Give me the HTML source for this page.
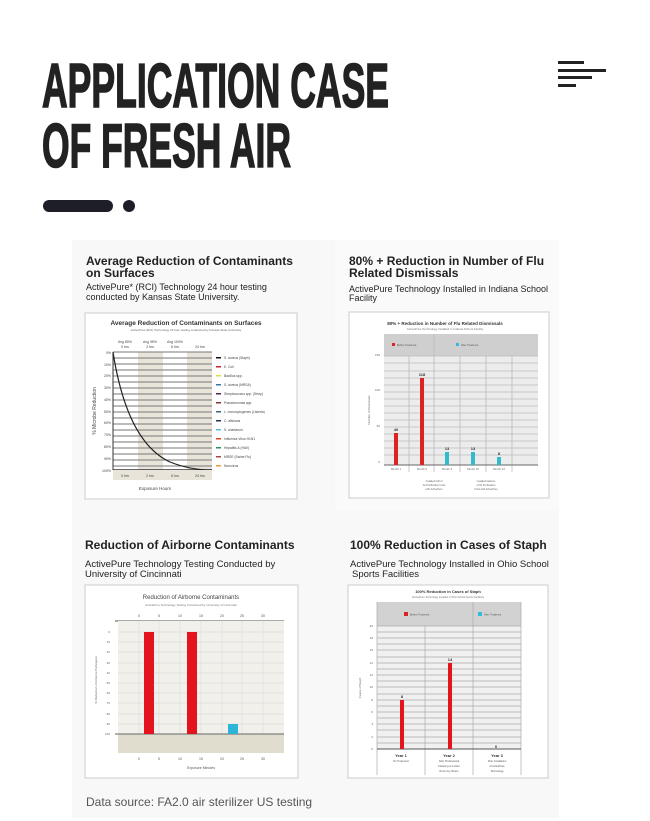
<!DOCTYPE html>
<html><head><meta charset="utf-8"><style>
html,body{margin:0;padding:0;background:#fff;}
svg{display:block;font-family:"Liberation Sans",sans-serif;}
</style></head><body>
<svg width="650" height="821" viewBox="0 0 650 821" xmlns="http://www.w3.org/2000/svg">
<rect width="650" height="821" fill="#fff"/>
<!-- header -->
<text x="42" y="107" font-family="Liberation Sans Narrow, Liberation Sans, sans-serif" font-weight="bold" font-size="62" fill="#222" stroke="#222" stroke-width="1.6" textLength="347" lengthAdjust="spacingAndGlyphs">APPLICATION CASE</text>
<text x="42" y="167" font-family="Liberation Sans Narrow, Liberation Sans, sans-serif" font-weight="bold" font-size="62" fill="#222" stroke="#222" stroke-width="1.6" textLength="249" lengthAdjust="spacingAndGlyphs">OF FRESH AIR</text>
<g fill="#222">
<rect x="558" y="61" width="26" height="3"/><rect x="558" y="69" width="48" height="3"/>
<rect x="558" y="76" width="34" height="3"/><rect x="558" y="84" width="18" height="3"/>
<rect x="43" y="200" width="70" height="12" rx="6" fill="#1e1e28"/><circle cx="129" cy="206" r="6" fill="#1e1e28"/>
</g>
<!-- panel bg -->
<rect x="72" y="240" width="487" height="578" fill="#f8f8f8"/>
<rect x="335" y="240" width="224" height="270" fill="#fafafa"/>

<g fill="#222">
<text x="86" y="265" font-size="12" font-weight="bold">Average Reduction of Contaminants</text>
<text x="86" y="277" font-size="12" font-weight="bold">on Surfaces</text>
<text x="86" y="290" font-size="9">ActivePure* (RCI) Technology 24 hour testing</text>
<text x="86" y="300" font-size="9">conducted by Kansas State University.</text>
<text x="349" y="265" font-size="12" font-weight="bold">80% + Reduction in Number of Flu</text>
<text x="349" y="277" font-size="12" font-weight="bold">Related Dismissals</text>
<text x="349" y="292" font-size="9">ActivePure Technology Installed in Indiana School</text>
<text x="349" y="301" font-size="9">Facility</text>
<text x="85" y="549" font-size="12" font-weight="bold">Reduction of Airborne Contaminants</text>
<text x="85" y="567" font-size="9.5">ActivePure Technology Testing Conducted by</text>
<text x="85" y="577" font-size="9.5">University of Cincinnati</text>
<text x="350" y="549" font-size="12" font-weight="bold">100% Reduction in Cases of Staph</text>
<text x="350" y="567" font-size="9.5">ActivePure Technology Installed in Ohio School</text>
<text x="352" y="577" font-size="9.5">Sports Facilities</text>
<text x="86" y="806" font-size="12" fill="#555">Data source: FA2.0 air sterilizer US testing</text>
</g>

<!-- Chart 1 -->
<rect x="85" y="313" width="212" height="186" fill="#fff" stroke="#ccc"/>
<text x="186" y="325" font-size="6.5" font-weight="bold" text-anchor="middle" fill="#333">Average Reduction of Contaminants on Surfaces</text>
<text x="186" y="331" font-size="3" text-anchor="middle" fill="#666">ActivePure (RCI) Technology 24 hour testing conducted by Kansas State University</text>
<g font-size="3.5" fill="#444" text-anchor="middle">
<text x="125" y="343">Avg 80%</text><text x="150" y="343">Avg 95%</text><text x="175" y="343">Avg 100%</text>
<text x="125" y="348">0 hrs</text><text x="150" y="348">2 hrs</text><text x="175" y="348">6 hrs</text><text x="200" y="348">24 hrs</text>
</g>
<rect x="113" y="352" width="99" height="118" fill="#fff"/>
<rect x="138" y="352" width="25" height="118" fill="#e8e4da"/>
<rect x="187" y="352" width="25" height="118" fill="#e8e4da"/>
<g stroke="#777" stroke-width="1">
<line x1="113" y1="352" x2="212" y2="352"/><line x1="113" y1="358" x2="212" y2="358"/><line x1="113" y1="364" x2="212" y2="364"/><line x1="113" y1="370" x2="212" y2="370"/><line x1="113" y1="376" x2="212" y2="376"/><line x1="113" y1="382" x2="212" y2="382"/><line x1="113" y1="388" x2="212" y2="388"/><line x1="113" y1="394" x2="212" y2="394"/><line x1="113" y1="400" x2="212" y2="400"/><line x1="113" y1="406" x2="212" y2="406"/><line x1="113" y1="412" x2="212" y2="412"/><line x1="113" y1="418" x2="212" y2="418"/><line x1="113" y1="424" x2="212" y2="424"/><line x1="113" y1="430" x2="212" y2="430"/><line x1="113" y1="436" x2="212" y2="436"/><line x1="113" y1="442" x2="212" y2="442"/><line x1="113" y1="448" x2="212" y2="448"/><line x1="113" y1="454" x2="212" y2="454"/><line x1="113" y1="460" x2="212" y2="460"/><line x1="113" y1="466" x2="212" y2="466"/>
</g>
<line x1="113" y1="470" x2="212" y2="470" stroke="#333" stroke-width="1.5"/>
<line x1="113" y1="352" x2="113" y2="470" stroke="#333"/>
<path d="M113,352 C122,410 140,448 170,462 C185,468 200,470 212,470" fill="none" stroke="#222" stroke-width="1.2"/>
<g font-size="3.5" fill="#444" text-anchor="end">
<text x="111" y="354">0%</text><text x="111" y="366">10%</text><text x="111" y="377">20%</text><text x="111" y="389">30%</text><text x="111" y="401">40%</text><text x="111" y="413">50%</text><text x="111" y="424">60%</text><text x="111" y="436">70%</text><text x="111" y="448">80%</text><text x="111" y="460">90%</text><text x="111" y="472">100%</text>
</g>
<text x="96" y="411" font-size="5" fill="#444" text-anchor="middle" transform="rotate(-90 96 411)">% Microbe Reduction</text>
<rect x="113" y="470" width="99" height="10" fill="#e8e4da"/>
<g font-size="3.5" fill="#444" text-anchor="middle"><text x="125" y="477">0 hrs</text><text x="150" y="477">2 hrs</text><text x="175" y="477">6 hrs</text><text x="200" y="477">24 hrs</text></g>
<text x="155" y="490" font-size="4.5" fill="#444" text-anchor="middle">Exposure Hours</text>
<g font-size="3.3" fill="#444">
<rect x="216" y="357" width="5" height="1.5" fill="#111"/><text x="224" y="359">S. aureus (Staph)</text>
<rect x="216" y="366" width="5" height="1.5" fill="#c23"/><text x="224" y="368">E. Coli</text>
<rect x="216" y="375" width="5" height="1.5" fill="#dd4"/><text x="224" y="377">Bacillus spp.</text>
<rect x="216" y="384" width="5" height="1.5" fill="#37a"/><text x="224" y="386">S. aureus (MRSA)</text>
<rect x="216" y="393" width="5" height="1.5" fill="#525"/><text x="224" y="395">Streptococcus spp. (Strep)</text>
<rect x="216" y="402" width="5" height="1.5" fill="#833"/><text x="224" y="404">Pseudomonas spp.</text>
<rect x="216" y="411" width="5" height="1.5" fill="#367"/><text x="224" y="413">L. monocytogenes (Listeria)</text>
<rect x="216" y="420" width="5" height="1.5" fill="#236"/><text x="224" y="422">C. albicans</text>
<rect x="216" y="429" width="5" height="1.5" fill="#5bd"/><text x="224" y="431">S. chartarum</text>
<rect x="216" y="438" width="5" height="1.5" fill="#d42"/><text x="224" y="440">Influenza Virus H1N1</text>
<rect x="216" y="447" width="5" height="1.5" fill="#295"/><text x="224" y="449">Hepatitis A (HAV)</text>
<rect x="216" y="456" width="5" height="1.5" fill="#a44"/><text x="224" y="458">MRSE (Swine Flu)</text>
<rect x="216" y="465" width="5" height="1.5" fill="#e93"/><text x="224" y="467">Norovirus</text>
</g>

<!-- Chart 2 -->
<rect x="349" y="312" width="200" height="186" fill="#fff" stroke="#ccc"/>
<text x="445" y="325" font-size="4.5" font-weight="bold" text-anchor="middle" fill="#333">80% + Reduction in Number of Flu Related Dismissals</text>
<text x="445" y="330" font-size="3" text-anchor="middle" fill="#777">ActivePure Technology Installed in Indiana School Facility</text>
<rect x="384" y="334" width="154" height="131" fill="#ececec"/>
<rect x="384" y="334" width="154" height="22" fill="#cfcfcf"/>
<g stroke="#bbb" stroke-width="0.8">
<line x1="384" y1="356" x2="538" y2="356"/><line x1="384" y1="363" x2="538" y2="363"/><line x1="384" y1="371" x2="538" y2="371"/><line x1="384" y1="378" x2="538" y2="378"/><line x1="384" y1="385" x2="538" y2="385"/><line x1="384" y1="392" x2="538" y2="392"/><line x1="384" y1="399" x2="538" y2="399"/><line x1="384" y1="406" x2="538" y2="406"/><line x1="384" y1="413" x2="538" y2="413"/><line x1="384" y1="420" x2="538" y2="420"/><line x1="384" y1="427" x2="538" y2="427"/><line x1="384" y1="434" x2="538" y2="434"/><line x1="384" y1="441" x2="538" y2="441"/><line x1="384" y1="448" x2="538" y2="448"/><line x1="384" y1="455" x2="538" y2="455"/>
<line x1="434" y1="334" x2="434" y2="472"/><line x1="460" y1="356" x2="460" y2="472"/><line x1="486" y1="356" x2="486" y2="472"/><line x1="512" y1="356" x2="512" y2="472"/><line x1="409" y1="356" x2="409" y2="472"/>
</g>
<line x1="384" y1="465" x2="538" y2="465" stroke="#666"/>
<rect x="392" y="343" width="3" height="3" fill="#d22"/><text x="397" y="346" font-size="2.5" fill="#555">Before Treatment</text>
<rect x="456" y="343" width="3" height="3" fill="#3bd"/><text x="461" y="346" font-size="2.5" fill="#555">After Treatment</text>
<g font-size="3" fill="#666" text-anchor="end"><text x="380" y="356">150</text><text x="380" y="391">100</text><text x="380" y="427">50</text><text x="380" y="463">0</text></g>
<text x="370" y="410" font-size="3" fill="#666" text-anchor="middle" transform="rotate(-90 370 410)">Number of Dismissals</text>
<rect x="394" y="433" width="4" height="32" fill="#d22"/>
<rect x="420" y="378" width="4" height="87" fill="#d22"/>
<rect x="445" y="452" width="4" height="13" fill="#3bc"/>
<rect x="471" y="452" width="4" height="13" fill="#3bc"/>
<rect x="497" y="457" width="4" height="8" fill="#3bc"/>
<g font-size="4" font-weight="bold" fill="#333" text-anchor="middle">
<text x="396" y="431">40</text><text x="422" y="376">118</text><text x="447" y="450">13</text><text x="473" y="450">13</text><text x="499" y="455">8</text></g>
<g font-size="2.8" fill="#666" text-anchor="middle"><text x="396" y="470">Month 1</text><text x="422" y="470">Month 2</text><text x="447" y="470">Month 3</text><text x="473" y="470">Month 10</text><text x="499" y="470">Month 13</text></g>
<g font-size="2.5" fill="#666" text-anchor="middle"><text x="434" y="482">Installed half of</text><text x="434" y="486">Air Purification Units</text><text x="434" y="490">with ActivePure</text><text x="486" y="482">Installed balance</text><text x="486" y="486">of Air Purification</text><text x="486" y="490">Units with ActivePure</text></g>

<!-- Chart 3 -->
<rect x="85" y="585" width="213" height="193" fill="#fff" stroke="#ccc"/>
<text x="191" y="599" font-size="6" text-anchor="middle" fill="#444">Reduction of Airborne Contaminants</text>
<text x="191" y="606" font-size="3" text-anchor="middle" fill="#777">ActivePure Technology Testing Conducted by University of Cincinnati</text>
<g font-size="3.5" fill="#555" text-anchor="middle"><text x="139" y="617">0</text><text x="159" y="617">5</text><text x="180" y="617">10</text><text x="201" y="617">15</text><text x="222" y="617">20</text><text x="242" y="617">25</text><text x="263" y="617">30</text></g>
<line x1="115" y1="621" x2="284" y2="621" stroke="#555"/>
<rect x="118" y="621" width="166" height="113" fill="#f2f0ea"/>
<g stroke="#ddd" stroke-width="0.7">
<line x1="118" y1="632" x2="284" y2="632"/><line x1="118" y1="642" x2="284" y2="642"/><line x1="118" y1="652" x2="284" y2="652"/><line x1="118" y1="663" x2="284" y2="663"/><line x1="118" y1="673" x2="284" y2="673"/><line x1="118" y1="683" x2="284" y2="683"/><line x1="118" y1="693" x2="284" y2="693"/><line x1="118" y1="703" x2="284" y2="703"/><line x1="118" y1="714" x2="284" y2="714"/><line x1="118" y1="724" x2="284" y2="724"/>
<line x1="139" y1="621" x2="139" y2="734"/><line x1="159" y1="621" x2="159" y2="734"/><line x1="180" y1="621" x2="180" y2="734"/><line x1="201" y1="621" x2="201" y2="734"/><line x1="222" y1="621" x2="222" y2="734"/><line x1="242" y1="621" x2="242" y2="734"/><line x1="263" y1="621" x2="263" y2="734"/>
</g>
<rect x="118" y="734" width="166" height="19" fill="#e0ddcf"/>
<line x1="115" y1="734" x2="284" y2="734" stroke="#666"/>
<g font-size="3" fill="#666" text-anchor="end"><text x="110" y="633">0</text><text x="110" y="643">10</text><text x="110" y="653">20</text><text x="110" y="664">30</text><text x="110" y="674">40</text><text x="110" y="684">50</text><text x="110" y="694">60</text><text x="110" y="704">70</text><text x="110" y="715">80</text><text x="110" y="725">90</text><text x="110" y="735">100</text></g>
<text x="97" y="680" font-size="3" fill="#666" text-anchor="middle" transform="rotate(-90 97 680)">% Reduction of Airborne Pathogens</text>
<rect x="144" y="632" width="10" height="102" fill="#e3141e"/>
<rect x="187" y="632" width="10" height="102" fill="#e3141e"/>
<rect x="228" y="724" width="10" height="10" fill="#2bb6d8"/>
<g font-size="3.5" fill="#555" text-anchor="middle"><text x="139" y="760">0</text><text x="159" y="760">5</text><text x="180" y="760">10</text><text x="201" y="760">15</text><text x="222" y="760">20</text><text x="242" y="760">25</text><text x="263" y="760">30</text></g>
<text x="201" y="769" font-size="3.5" fill="#555" text-anchor="middle">Exposure Minutes</text>

<!-- Chart 4 -->
<rect x="348" y="585" width="200" height="193" fill="#fff" stroke="#ccc"/>
<text x="448" y="593" font-size="4" font-weight="bold" text-anchor="middle" fill="#333">100% Reduction in Cases of Staph</text>
<text x="448" y="598" font-size="2.5" text-anchor="middle" fill="#777">(ActivePure Technology Installed in Ohio School Sports Facilities)</text>
<rect x="377" y="602" width="144" height="147" fill="#f0f0f0"/>
<rect x="377" y="602" width="144" height="24" fill="#d2d2d2"/>
<g stroke="#aaa" stroke-width="0.7">
<line x1="377" y1="626" x2="521" y2="626"/><line x1="377" y1="632" x2="521" y2="632"/><line x1="377" y1="638" x2="521" y2="638"/><line x1="377" y1="644" x2="521" y2="644"/><line x1="377" y1="650" x2="521" y2="650"/><line x1="377" y1="657" x2="521" y2="657"/><line x1="377" y1="663" x2="521" y2="663"/><line x1="377" y1="669" x2="521" y2="669"/><line x1="377" y1="675" x2="521" y2="675"/><line x1="377" y1="681" x2="521" y2="681"/><line x1="377" y1="687" x2="521" y2="687"/><line x1="377" y1="694" x2="521" y2="694"/><line x1="377" y1="700" x2="521" y2="700"/><line x1="377" y1="706" x2="521" y2="706"/><line x1="377" y1="712" x2="521" y2="712"/><line x1="377" y1="718" x2="521" y2="718"/><line x1="377" y1="724" x2="521" y2="724"/><line x1="377" y1="730" x2="521" y2="730"/><line x1="377" y1="737" x2="521" y2="737"/><line x1="377" y1="743" x2="521" y2="743"/>
<line x1="425" y1="626" x2="425" y2="775"/><line x1="473" y1="602" x2="473" y2="775"/><line x1="377" y1="602" x2="377" y2="775"/><line x1="521" y1="602" x2="521" y2="775"/>
</g>
<line x1="377" y1="749" x2="521" y2="749" stroke="#555"/>
<rect x="404" y="612" width="4" height="4" fill="#d22"/><text x="410" y="615.5" font-size="2.5" fill="#555">Before Treatment</text>
<rect x="478" y="612" width="4" height="4" fill="#3bd"/><text x="484" y="615.5" font-size="2.5" fill="#555">After Treatment</text>
<g font-size="3" fill="#666" text-anchor="end"><text x="373" y="627">20</text><text x="373" y="639">18</text><text x="373" y="651">16</text><text x="373" y="664">14</text><text x="373" y="676">12</text><text x="373" y="688">10</text><text x="373" y="701">8</text><text x="373" y="713">6</text><text x="373" y="725">4</text><text x="373" y="738">2</text><text x="373" y="750">0</text></g>
<text x="361" y="688" font-size="3" fill="#666" text-anchor="middle" transform="rotate(-90 361 688)">Cases of Staph</text>
<rect x="400" y="700" width="4" height="49" fill="#e3141e"/>
<rect x="448" y="663" width="4" height="86" fill="#e3141e"/>
<g font-size="4" font-weight="bold" fill="#333" text-anchor="middle"><text x="402" y="698">8</text><text x="450" y="661">14</text><text x="496" y="748">0</text>
<text x="401" y="757">Year 1</text><text x="449" y="757">Year 2</text><text x="497" y="757">Year 3</text></g>
<g font-size="2.6" fill="#555" text-anchor="middle"><text x="401" y="762">No Treatment</text><text x="449" y="762">After Professional</text><text x="449" y="767">Cleaning of Locker</text><text x="449" y="772">Room by Others</text><text x="497" y="762">After Installation</text><text x="497" y="767">of ActivePure</text><text x="497" y="772">Technology</text></g>
</svg>
</body></html>
